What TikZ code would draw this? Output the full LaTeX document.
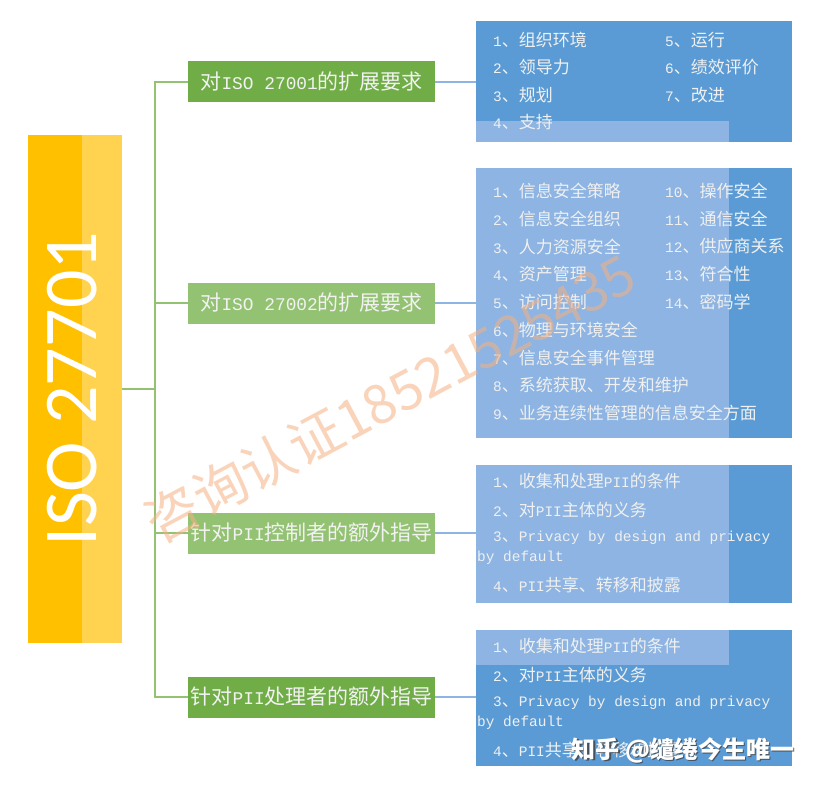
\documentclass[tikz,border=0pt]{standalone}
\usepackage{fontspec}
\setmainfont{Noto Sans CJK SC}
\newfontfamily\latfont[Scale=0.85]{Liberation Mono}
\newfontfamily\isofont{Carlito}
\newcommand\lat[1]{{\latfont #1}}
\newcommand\nr[1]{\lat{#1}、}
\usetikzlibrary{positioning}

\begin{document}
\begin{tikzpicture}[x=1pt,y=-1pt]
    \definecolor{isodark}{HTML}{FFC000}
    \definecolor{isolight}{HTML}{FFD24F}
    \definecolor{greendark}{HTML}{70AD47}
    \definecolor{greenlight}{HTML}{93C272}
    \definecolor{bluedark}{HTML}{5B9BD5}
    \definecolor{bluelight}{HTML}{8DB4E2}
    \definecolor{wmark}{HTML}{F4B183}
    \tikzset{
        branch/.style={fill=#1, text=white!95!black, minimum width=247pt,
            minimum height=41pt, inner sep=0pt, anchor=west,
            font=\fontsize{21}{24}\selectfont},
        panel/.style={fill=bluedark, minimum width=316pt, anchor=north west, inner sep=0pt},
        item/.style={anchor=west, inner sep=0pt, text=white!94!black,
            font=\fontsize{17}{20}\selectfont},
        stem/.style={draw=greenlight, line width=2pt},
        link/.style={draw=bluelight, line width=2pt},
    }
    \useasboundingbox (0,0) rectangle (813,788);

% title bar
    \node[fill=isolight, minimum width=94pt, minimum height=508pt, inner sep=0pt] (bar) at (75,389) {};
    \fill[isodark] (bar.north west) rectangle ([xshift=54pt]bar.south west);
    \node[rotate=90, text=white, font=\isofont\fontsize{76}{80}\selectfont] (iso) at (72.5,389) {ISO 27701};

    % branches
    \node[branch=greendark] (g1) at (188,81.5) {对\lat{ISO 27001}的扩展要求};
    \node[branch=greenlight] (g2) at (188,303) {对\lat{ISO 27002}的扩展要求};
    \node[branch=greenlight] (g3) at (188,533) {针对\lat{PII}控制者的额外指导};
    \node[branch=greendark] (g4) at (188,697) {针对\lat{PII}处理者的额外指导};

    % trunk
    \coordinate (t1) at (155,81.5);
    \coordinate (t4) at (155,697);
    \draw[stem] (g1.west) -- (t1) -- (t4) -- (g4.west);
    \draw[stem] (bar.east) -- (bar.east -| t1);
    \draw[stem] (g2.west) -- (g2.west -| t1);
    \draw[stem] (g3.west) -- (g3.west -| t1);

    % panels
    \node[panel, minimum height=121pt] (p1) at (476,21) {};
    \node[panel, minimum height=270pt] (p2) at (476,168) {};
    \node[panel, minimum height=138pt] (p3) at (476,465) {};
    \node[panel, minimum height=136pt] (p4) at (476,630) {};
    \fill[bluelight] (p1.south west) rectangle ++(253,-21);
    \fill[bluelight] (p2.north west) rectangle ([xshift=253pt]p2.south west);
    \fill[bluelight] (p3.north west) rectangle ([xshift=253pt]p3.south west);
    \fill[bluelight] (p4.north west) rectangle ++(253,35);
    \foreach \i in {1,...,4}
        \draw[link] (g\i.east) -- (g\i.east -| p\i.west);

    % ISO 27001
    \foreach \t [count=\i] in {组织环境,领导力,规划,支持}
        \node[item] (a\i) at (493,{40+(\i-1)*27.5}) {\nr{\i}\t};
    \foreach \t [count=\i from 5] in {运行,绩效评价,改进}
        \node[item] (a\i) at (665,{40+(\i-5)*27.5}) {\nr{\i}\t};

    % ISO 27002
    \foreach \t [count=\i] in {信息安全策略,信息安全组织,人力资源安全,资产管理,访问控制,
            物理与环境安全,信息安全事件管理,系统获取、开发和维护,业务连续性管理的信息安全方面}
        \node[item] (b\i) at (493,{191+(\i-1)*27.75}) {\nr{\i}\t};
    \foreach \t [count=\i from 10] in {操作安全,通信安全,供应商关系,符合性,密码学}
        \node[item] (b\i) at (665,{191+(\i-10)*27.75}) {\nr{\i}\t};

    % PII controller / processor
    \foreach \k/\y in {c/481,d/646} {
        \node[item] (\k1) at (493,\y) {\nr{1}收集和处理\lat{PII}的条件};
        \node[item] (\k2) at (493,\y+28.5) {\nr{2}对\lat{PII}主体的义务};
        \node[item] (\k3) at (493,\y+57) {\nr{3}\lat{Privacy by design and privacy}};
        \node[item] (\k3b) at (477,\y+77) {\lat{by default}};
        \node[item] (\k4) at (493,\y+104) {\nr{4}\lat{PII}共享、转移和披露};
    }

    % watermarks
    \node[rotate=28, text=wmark, opacity=0.55, font=\fontsize{54}{60}\selectfont] (wm) at (390,398) {咨询认证18521525435};
    \node[text=black!75, opacity=0.8, font=\bfseries\fontsize{24}{28}\selectfont] (zhshadow) at (684.5,751.5) {知乎 @缱绻今生唯一};
    \node[text=white, font=\bfseries\fontsize{24}{28}\selectfont] (zhihu) at (683,750) {知乎 @缱绻今生唯一};
\end{tikzpicture}
\end{document}
